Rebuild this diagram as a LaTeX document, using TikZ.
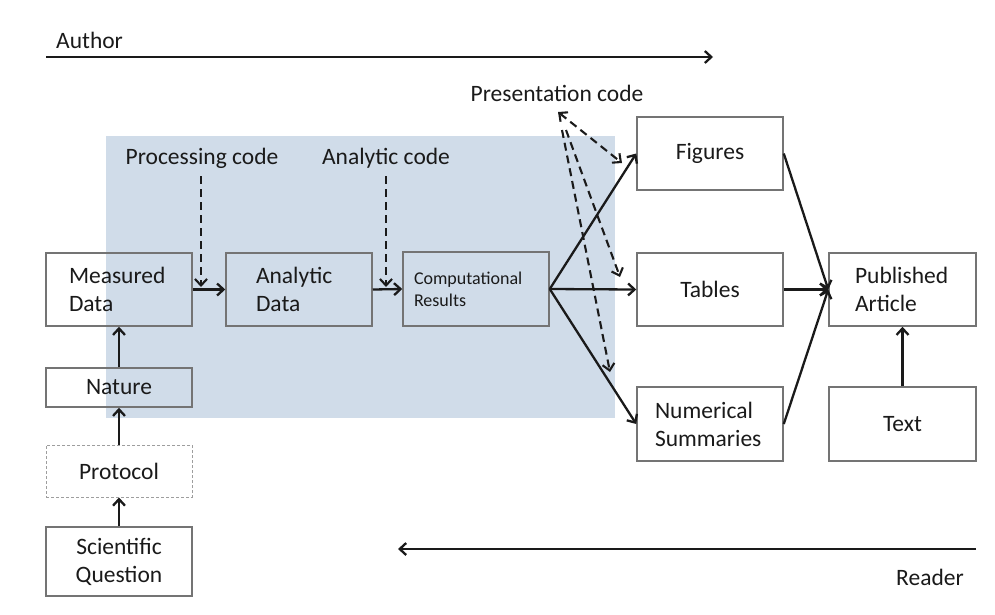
\documentclass[tikz,border=0pt]{standalone}
\usepackage{fontspec}
\setmainfont{Carlito}
\usetikzlibrary{arrows.meta}
\definecolor{bluebg}{HTML}{D0DCE9}
\definecolor{boxgray}{HTML}{747474}
\definecolor{ink}{HTML}{1A1A1A}
\tikzset{
  box/.style={draw=boxgray, line width=1.5pt, minimum width=146pt, inner sep=0pt,
    font=\fontsize{23.5}{28}\selectfont, align=center, text=ink},
  lbl/.style={inner sep=0pt, font=\fontsize{23.5}{28}\selectfont, text=ink},
  conn/.style={line width=2.3pt, draw=ink, -{Straight Barb[length=6.5pt,width=12pt]}},
  dconn/.style={line width=2.1pt, draw=ink, dash pattern=on 8pt off 5pt, -{Straight Barb[length=6.5pt,width=12pt]}},
}
\begin{document}
\begin{tikzpicture}[x=1pt,y=-1pt]
\useasboundingbox (0,0) rectangle (995,614);
\fill[bluebg] (106,136) rectangle (615,418);

% boxes
\node[box, minimum height=73pt, text width=100pt, align=left] (meas) at (119,289.5) {Measured\\Data};
\node[box, minimum height=73pt, text width=86pt, align=left] (ana) at (299,289.5) {Analytic\\Data};
\node[box, minimum height=74pt, text width=124pt, align=left, font=\fontsize{18}{22}\selectfont] (comp) at (476,289) {Computational\\Results};
\node[box, minimum height=39pt] (nat) at (119,387.5) {Nature};
\node[box, minimum height=52pt, draw=boxgray!70, line width=1pt, dash pattern=on 3pt off 2pt] (prot) at (119,471) {Protocol};
\node[box, minimum height=69pt] (sq) at (119,561.5) {Scientific\\Question};
\node[box, minimum height=73pt] (fig) at (710,153.5) {Figures};
\node[box, minimum height=73pt] (tab) at (710,289.5) {Tables};
\node[box, minimum height=74pt, text width=110pt, align=left] (num) at (710,424) {Numerical\\Summaries};
\node[box, minimum width=147pt, minimum height=73pt, text width=95pt, align=left] (pub) at (902.5,289.5) {Published\\Article};
\node[box, minimum width=147pt, minimum height=74pt] (txt) at (902.5,424) {Text};

% labels
\node[lbl, anchor=west] (auth) at (56,40) {Author};
\node[lbl] (read) at (930,577) {Reader};
\node[lbl] (proc) at (202,158) {Processing code};
\node[lbl] (anac) at (386,158) {Analytic code};
\node[lbl] (pres) at (557,93) {Presentation code};

% coordinates for free ends
\coordinate (a0) at (46,57);
\coordinate (a1) at (713,57);
\coordinate (r0) at (976,549);
\coordinate (r1) at (398,549);
\coordinate (pc0) at (201,176);
\coordinate (pc1) at (201,287);
\coordinate (ac0) at (386,176);
\coordinate (ac1) at (386,287);
\coordinate (p0) at (558,112);
\coordinate (p1) at (622,163);
\coordinate (p2s) at (562,130);
\coordinate (p2e) at (610,372);
\coordinate (p3s) at (566,130);
\coordinate (p3e) at (620,277);

% timeline arrows
\draw[conn] (a0) -- (a1);
\draw[conn] (r0) -- (r1);

% main flow
\draw[conn] (meas.east) -- (ana.west);
\draw[conn] (ana.east) -- (comp.west);
\draw[conn] (nat.north) -- (meas.south);
\draw[conn] (prot.north) -- (nat.south);
\draw[conn] (sq.north) -- (prot.south);
\draw[conn] (comp.east) -- (fig.west);
\draw[conn] (comp.east) -- (tab.west);
\draw[conn] (comp.east) -- (num.west);
\draw[conn] (fig.east) -- (pub.west);
\draw[conn] (tab.east) -- (pub.west);
\draw[conn] (num.east) -- (pub.west);
\draw[conn] (txt.north) -- (pub.south);

% code arrows
\draw[dconn] (pc0) -- (pc1);
\draw[dconn] (ac0) -- (ac1);
\draw[dconn, {Straight Barb[length=6.5pt,width=12pt]}-{Straight Barb[length=6.5pt,width=12pt]}] (p0) -- (p1);
\draw[dconn] (p2s) -- (p2e);
\draw[dconn] (p3s) -- (p3e);
\end{tikzpicture}
\end{document}
